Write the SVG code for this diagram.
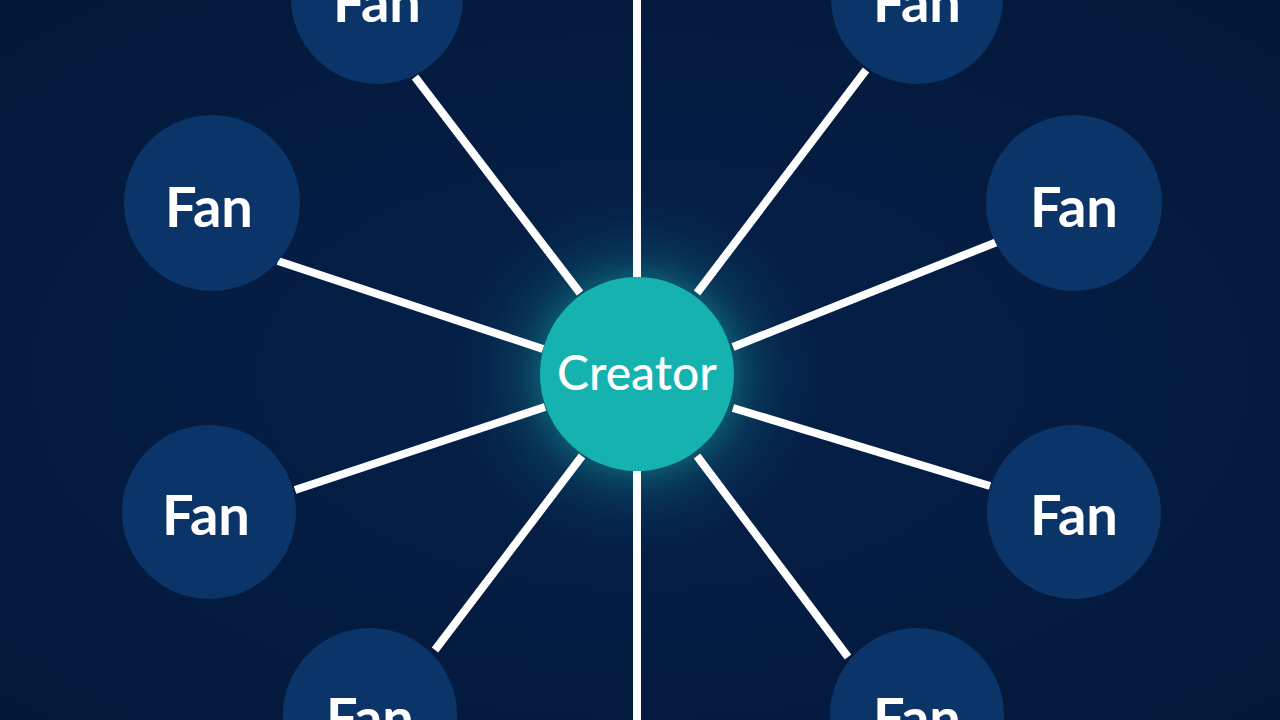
<svg xmlns="http://www.w3.org/2000/svg" width="1280" height="720" viewBox="0 0 1280 720">
<defs>
<radialGradient id="bg" cx="50%" cy="52%" r="75%">
<stop offset="0" stop-color="#05204a"/>
<stop offset="1" stop-color="#031838"/>
</radialGradient>
<radialGradient id="glow" cx="637" cy="374" r="185" gradientUnits="userSpaceOnUse">
<stop offset="0.45" stop-color="#17b5b2" stop-opacity="0.5"/>
<stop offset="0.65" stop-color="#0f6f80" stop-opacity="0.28"/>
<stop offset="1" stop-color="#0a3a60" stop-opacity="0"/>
</radialGradient>
<style>
.fan{fill:#0b3468}
.ft{font-family:Lato,"Noto Sans",sans-serif;font-size:56px;font-weight:bold;fill:#ffffff;text-anchor:middle}
.ct{font-family:Lato,"Noto Sans",sans-serif;font-size:48px;font-weight:500;fill:#ffffff;text-anchor:middle}
.ln line{stroke:#ffffff;stroke-width:8;stroke-linecap:butt}
</style>
</defs>
<rect width="1280" height="720" fill="url(#bg)"/>
<circle cx="637" cy="374" r="185" fill="url(#glow)"/>
<g id="connectors" class="ln">
<line x1="637" y1="0" x2="637" y2="277"/>
<line x1="637" y1="471" x2="637" y2="720"/>
<line x1="415" y1="77" x2="580" y2="293"/>
<line x1="866" y1="70" x2="697" y2="293"/>
<line x1="278" y1="261" x2="543" y2="349"/>
<line x1="997" y1="242" x2="733" y2="347"/>
<line x1="295" y1="490" x2="545" y2="407"/>
<line x1="990" y1="486" x2="733" y2="408"/>
<line x1="435" y1="650" x2="582" y2="456"/>
<line x1="848" y1="657" x2="697" y2="456"/>
</g>
<g id="creator">
<circle cx="637" cy="374" r="97" fill="#16b2af"/>
<text class="ct" x="637" y="390">Creator</text>
</g>
<g id="fan-top-left"><circle class="fan" cx="377" cy="-2" r="86"/><text class="ft" x="377" y="22">Fan</text></g>
<g id="fan-top-right"><circle class="fan" cx="917" cy="-2" r="86"/><text class="ft" x="917" y="22">Fan</text></g>
<g id="fan-left-upper"><circle class="fan" cx="212" cy="203" r="88"/><text class="ft" x="209" y="227">Fan</text></g>
<g id="fan-right-upper"><circle class="fan" cx="1074" cy="203" r="88"/><text class="ft" x="1074" y="227">Fan</text></g>
<g id="fan-left-lower"><circle class="fan" cx="209" cy="512" r="87"/><text class="ft" x="206" y="535">Fan</text></g>
<g id="fan-right-lower"><circle class="fan" cx="1074" cy="512" r="87"/><text class="ft" x="1074" y="535">Fan</text></g>
<g id="fan-bottom-left"><circle class="fan" cx="370" cy="715" r="87"/><text class="ft" x="370" y="738">Fan</text></g>
<g id="fan-bottom-right"><circle class="fan" cx="917" cy="715" r="87"/><text class="ft" x="917" y="738">Fan</text></g>
</svg>
